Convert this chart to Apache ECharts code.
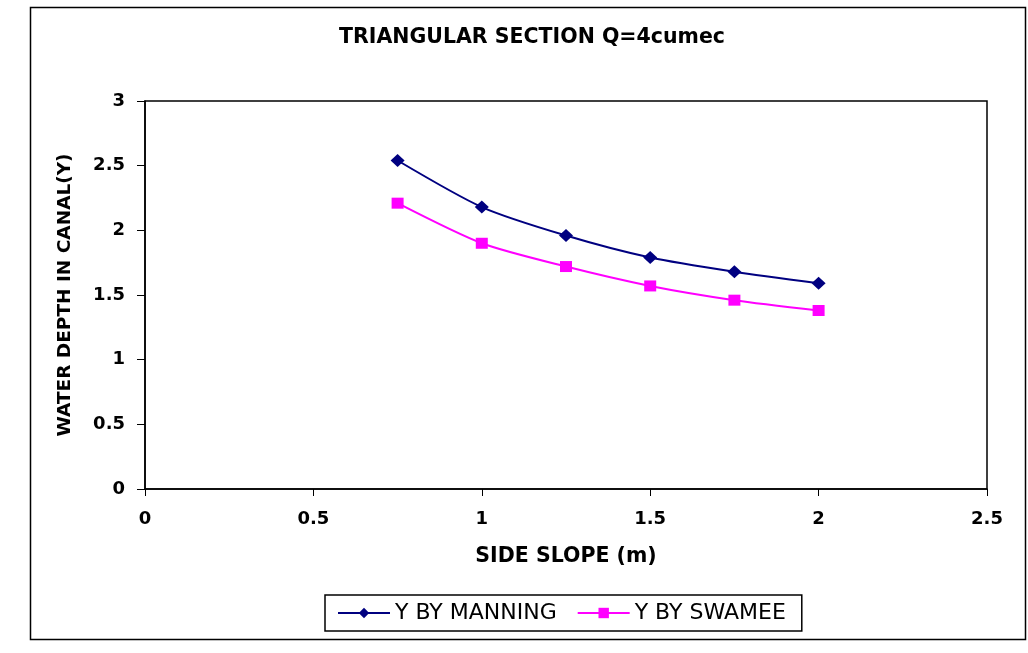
<!DOCTYPE html>
<html>
<head>
<meta charset="utf-8">
<script src="https://cdn.jsdelivr.net/npm/echarts@6/dist/echarts.min.js"></script>
<style>
html,body{margin:0;padding:0;background:#fff;}
#chart{width:1028px;height:653px;}
</style>
</head>
<body>
<div id="chart"></div>
<script>
const sideSlope = [0.75, 1, 1.25, 1.5, 1.75, 2];
const yManning = [2.54, 2.18, 1.96, 1.79, 1.68, 1.59];
const ySwamee = [2.21, 1.90, 1.72, 1.57, 1.46, 1.38];
const xTicks = [0, 0.5, 1, 1.5, 2, 2.5];
const yTicks = [0, 0.5, 1, 1.5, 2, 2.5, 3];

const chart = echarts.init(document.getElementById('chart'), null, {renderer: 'canvas'});
const font = '"DejaVu Sans", Arial, sans-serif';
chart.setOption({
  animation: false,
  backgroundColor: '#fff',
  graphic: [{
    type: 'rect', left: 28, top: 5, silent: true,
    shape: {width: 995, height: 632},
    style: {fill: 'none', stroke: '#000', lineWidth: 1.5}
  }],
  title: {
    text: 'TRIANGULAR SECTION Q=4cumec',
    left: 527, textAlign: 'center', top: 22,
    textStyle: {fontFamily: font, fontSize: 20.5, fontWeight: 'bold', color: '#000'}
  },
  grid: {left: 145, top: 101, width: 842, height: 388, show: true, borderColor: '#000', borderWidth: 1.5, backgroundColor: '#fff'},
  xAxis: {
    type: 'value', min: 0, max: 2.5, interval: 0.5,
    name: 'SIDE SLOPE (m)', nameLocation: 'middle', nameGap: 57,
    nameTextStyle: {fontFamily: font, fontSize: 20.5, fontWeight: 'bold', color: '#000'},
    axisLine: {show: true, lineStyle: {color: '#000', width: 1.5}},
    axisTick: {show: true, inside: false, length: 7, lineStyle: {color: '#000'}},
    axisLabel: {fontFamily: font, fontSize: 18, fontWeight: 'bold', color: '#000', margin: 21,
      formatter: v => String(v)},
    splitLine: {show: false}
  },
  yAxis: {
    type: 'value', min: 0, max: 3, interval: 0.5,
    name: 'WATER DEPTH IN CANAL(Y)', nameLocation: 'middle', nameGap: 70,
    nameTextStyle: {fontFamily: font, fontSize: 18.5, fontWeight: 'bold', color: '#000'},
    axisLine: {show: true, lineStyle: {color: '#000', width: 1.5}},
    axisTick: {show: true, inside: false, length: 8, lineStyle: {color: '#000'}},
    axisLabel: {fontFamily: font, fontSize: 18, fontWeight: 'bold', color: '#000', margin: 20,
      formatter: v => String(v)},
    splitLine: {show: false}
  },
  legend: {
    bottom: 22, left: 325,
    borderColor: '#000', borderWidth: 1.5, padding: [7, 16, 7, 12],
    itemWidth: 52, itemHeight: 13, itemGap: 20,
    textStyle: {fontFamily: font, fontSize: 22, color: '#000'},
    data: ['Y BY MANNING', 'Y BY SWAMEE']
  },
  series: [
    {
      name: 'Y BY MANNING', type: 'line', smooth: 0.25,
      data: sideSlope.map((x, i) => [x, yManning[i]]),
      symbol: 'diamond', symbolSize: [14, 13],
      itemStyle: {color: '#000080'},
      lineStyle: {color: '#000080', width: 2}
    },
    {
      name: 'Y BY SWAMEE', type: 'line', smooth: 0.25,
      data: sideSlope.map((x, i) => [x, ySwamee[i]]),
      symbol: 'rect', symbolSize: [12, 11],
      itemStyle: {color: '#FF00FF'},
      lineStyle: {color: '#FF00FF', width: 2}
    }
  ]
});
</script>
</body>
</html>
